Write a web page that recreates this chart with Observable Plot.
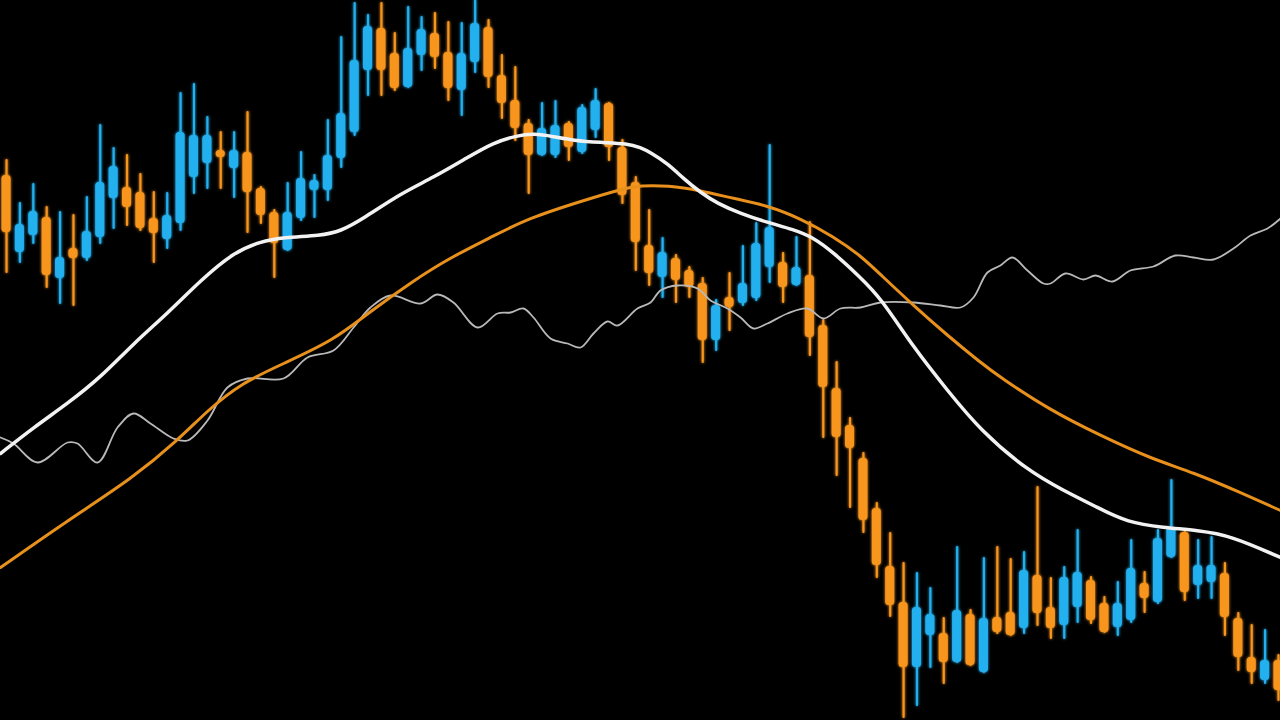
<!DOCTYPE html>
<html>
<head>
<meta charset="utf-8">
<script src="https://cdn.jsdelivr.net/npm/d3@7"></script>
<script src="https://cdn.jsdelivr.net/npm/@observablehq/plot@0.6"></script>
<style>
  html, body { margin: 0; padding: 0; background: #000; overflow: hidden; }
  #chart svg { display: block; }
</style>
</head>
<body>
<div id="chart"></div>
<script>
// Candle values (price units, higher = up), one per session
const opens  = [545,468,485,503,442,472,462,483,522,533,528,502,481,497,543,557,570,552,568,532,508,470,502,530,530,562,588,650,692,667,633,665,687,668,630,658,693,645,620,597,565,565,597,568,590,617,573,538,475,443,462,450,437,380,423,417,422,453,458,435,445,395,332,295,262,212,154,118,53,85,87,58,106,48,103,108,92,145,113,95,113,140,117,93,100,137,118,163,188,135,138,147,102,63,40,60];
const highs  = [560,517,536,513,508,505,523,595,572,565,546,528,527,627,636,603,588,588,608,533,510,537,568,545,600,683,717,705,717,687,713,703,707,698,697,720,700,665,653,600,617,619,598,615,631,617,580,543,510,482,465,453,442,420,447,474,497,575,467,483,498,400,358,302,267,217,187,157,147,132,102,173,110,162,173,161,168,233,142,153,190,143,123,138,180,148,190,240,188,180,183,157,107,95,90,65];
const lows   = [448,458,477,433,417,415,460,477,492,495,490,458,472,490,527,532,532,523,488,497,443,470,500,503,520,553,585,625,625,630,633,650,652,620,605,648,633,602,580,527,565,563,560,567,583,560,517,450,435,423,418,423,358,370,390,415,420,438,418,435,365,283,245,213,188,143,104,3,15,53,37,58,55,48,87,85,87,95,82,82,98,97,88,85,98,108,117,163,120,122,122,85,50,37,37,20];
const closes = [488,496,509,445,463,462,489,538,554,513,492,487,505,588,585,585,563,570,528,505,477,508,542,540,565,607,660,694,650,632,672,691,663,632,667,697,643,617,592,565,592,595,573,613,620,573,525,478,447,468,440,433,380,415,413,437,477,493,433,453,383,333,283,272,200,155,115,53,113,106,58,110,55,102,88,85,150,107,92,143,148,100,88,117,152,122,182,193,128,155,155,103,63,48,60,30];

// Moving averages and price line: [session, value]
const fastMA = [[-0.45,267],[2.02,293],[4.56,317],[7.02,343],[9.48,377],[12.02,407],[14.49,440],[16.95,468],[18.97,479],[20.69,483],[23.45,485],[24.94,489],[26.66,502],[29.43,527],[31.89,543],[34.43,563],[36.37,578],[38.16,585],[39.36,587],[40.85,584],[42.35,580],[44.36,578],[46.38,577],[47.35,573],[48.10,568],[49.37,557],[50.56,542],[51.83,528],[53.10,517],[54.82,507],[56.83,498],[58.78,491],[60.27,483],[61.76,468],[63.78,443],[65.27,423],[67.74,373],[70.28,330],[72.74,290],[76.25,250],[78.94,230],[81.48,213],[83.72,198],[86.41,193],[88.95,190],[91.41,185],[95.15,163]];
const slowMA = [[-0.45,153],[4.56,200],[9.48,243],[12.77,280],[15.01,310],[17.48,337],[20.69,357],[24.42,380],[26.96,407],[30.40,440],[33.16,463],[36.15,483],[38.91,502],[43.09,520],[46.08,532],[47.35,535],[49.37,535],[51.83,530],[54.29,522],[56.83,515],[59.30,502],[61.76,484],[63.78,465],[65.27,446],[67.74,415],[70.28,385],[72.74,358],[74.23,343],[77.97,310],[81.70,285],[85.44,262],[88.65,248],[92.16,228],[95.15,210]];
const priceLine = [[-0.45,283],[0.52,277],[2.32,258],[4.56,278],[5.30,277],[6.80,258],[8.29,293],[9.48,307],[10.75,297],[12.47,282],[13.52,280],[15.01,300],[16.50,333],[18.0,342],[20.69,342],[22.48,363],[24.42,370],[25.92,393],[27.18,413],[28.68,425],[30.92,417],[32.19,426],[33.38,418],[35.18,393],[36.67,407],[37.64,408],[38.61,412],[39.36,403],[40.63,382],[41.90,377],[42.87,373],[43.84,387],[44.88,399],[45.63,395],[47.12,412],[48.10,418],[48.84,430],[50.11,435],[51.61,432],[52.58,420],[53.85,412],[54.82,403],[55.79,392],[56.83,397],[58.33,407],[59.82,412],[61.02,402],[62.29,412],[63.78,413],[65.27,418],[67.74,418],[69.75,415],[71.25,413],[72.22,423],[73.26,448],[74.23,455],[75.13,463],[76.25,450],[77.45,437],[77.97,437],[79.09,447],[80.43,441],[81.33,445],[82.60,439],[83.94,450],[85.66,454],[87.30,465],[88.65,463],[90.14,461],[91.64,472],[92.91,485],[94.18,492],[95.15,502]];

const candles = opens.map((o, i) => ({i, open: o, high: highs[i], low: lows[i], close: closes[i]}));
const toRows = arr => arr.map(([t, v]) => ({t, v}));

const UP = "#24b0ef", DOWN = "#f7951f";
const col = d => d.close >= d.open ? UP : DOWN;
const halfBody = 0.34;

const chart = Plot.plot({
  width: 1280,
  height: 720,
  margin: 0,
  x: {domain: [-0.45, 95.15], axis: null},
  y: {domain: [0, 720], axis: null},
  style: {background: "#000", overflow: "hidden"},
  marks: [
    Plot.ruleX(candles, {x: "i", y1: "low", y2: "high", stroke: col, strokeWidth: 2.2, strokeLinecap: "round"}),
    Plot.rect(candles, {x1: d => d.i - halfBody, x2: d => d.i + halfBody, y1: "open", y2: "close", fill: col, rx: 3.5}),
    Plot.line(toRows(priceLine), {x: "t", y: "v", stroke: "#b9b9b9", strokeWidth: 1.8, curve: "catmull-rom"}),
    Plot.line(toRows(slowMA), {x: "t", y: "v", stroke: "#e8901c", strokeWidth: 3, curve: "basis"}),
    Plot.line(toRows(fastMA), {x: "t", y: "v", stroke: "#f2f2f2", strokeWidth: 3.5, curve: "basis"})
  ]
});

// soft glow on candles, like the reference's bright bars
const svg = d3.select(chart);
const defs = svg.insert("defs", ":first-child");
const f = defs.append("filter").attr("id", "glow").attr("x", "-50%").attr("y", "-10%").attr("width", "200%").attr("height", "120%");
f.append("feGaussianBlur").attr("in", "SourceGraphic").attr("stdDeviation", 1.6).attr("result", "b");
const m = f.append("feMerge");
m.append("feMergeNode").attr("in", "b");
m.append("feMergeNode").attr("in", "SourceGraphic");
svg.selectAll('g[aria-label="rule"], g[aria-label="rect"]').attr("filter", "url(#glow)");

document.getElementById("chart").appendChild(chart);
</script>
</body>
</html>
